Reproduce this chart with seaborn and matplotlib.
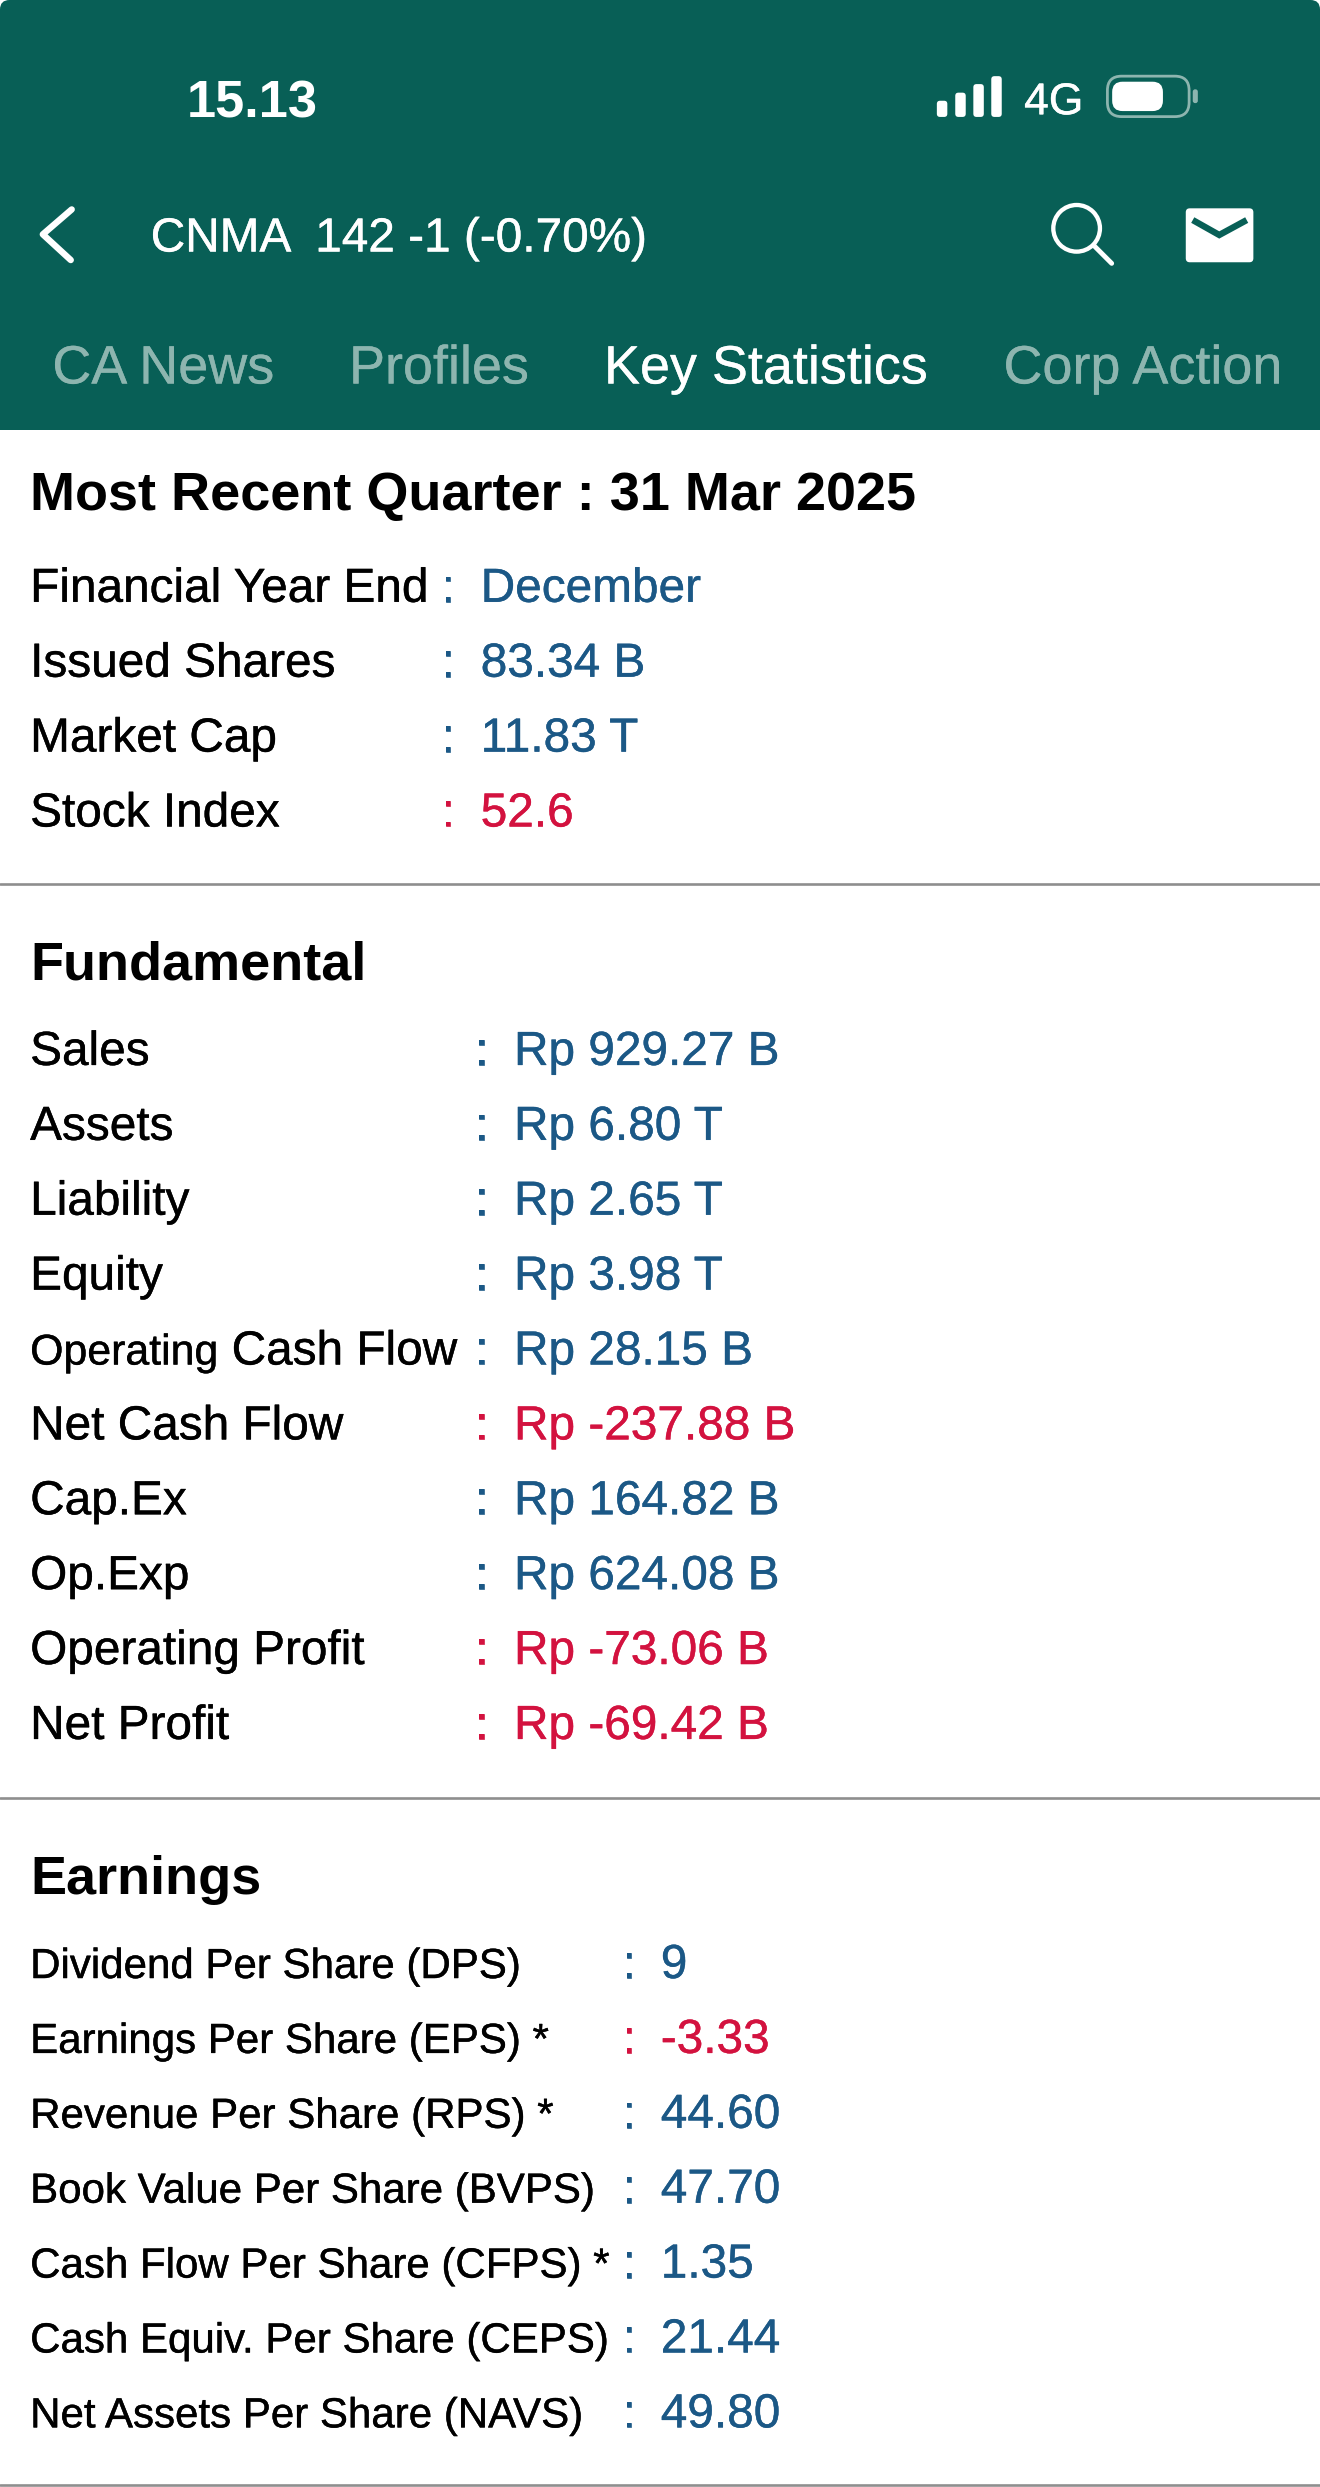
import matplotlib.pyplot as plt
from matplotlib.patches import Circle, FancyBboxPatch, Rectangle
import matplotlib.patheffects as pe
import seaborn as sns

status_time = '15.13'
network = '4G'
quote = 'CNMA  142 -1 (-0.70%)'
tabs = ['CA News', 'Profiles', 'Key Statistics', 'Corp Action']

quarter_title = 'Most Recent Quarter : 31 Mar 2025'
quarter_labels = ['Financial Year End', 'Issued Shares', 'Market Cap', 'Stock Index']
quarter_values = ['December', '83.34 B', '11.83 T', '52.6']

fundamental_title = 'Fundamental'
fundamental_labels = ['Sales', 'Assets', 'Liability', 'Equity', 'Operating Cash Flow',
                      'Net Cash Flow', 'Cap.Ex', 'Op.Exp', 'Operating Profit', 'Net Profit']
fundamental_values = ['Rp 929.27 B', 'Rp 6.80 T', 'Rp 2.65 T', 'Rp 3.98 T', 'Rp 28.15 B',
                      'Rp -237.88 B', 'Rp 164.82 B', 'Rp 624.08 B', 'Rp -73.06 B', 'Rp -69.42 B']

earnings_title = 'Earnings'
earnings_labels = ['Dividend Per Share (DPS)', 'Earnings Per Share (EPS) *', 'Revenue Per Share (RPS) *',
                   'Book Value Per Share (BVPS)', 'Cash Flow Per Share (CFPS) *',
                   'Cash Equiv. Per Share (CEPS)', 'Net Assets Per Share (NAVS)']
earnings_values = ['9', '-3.33', '44.60', '47.70', '1.35', '21.44', '49.80']

red_rows = ['Stock Index', 'Net Cash Flow', 'Operating Profit', 'Net Profit',
            'Earnings Per Share (EPS) *']

GREEN = '#085F56'
BLUE = '#1B5886'
RED = '#D3123F'
FADED = '#8DB5AF'
LINE = '#8E8E8E'
ROW = 47.2

sns.set_theme(style='white')
plt.rcParams['font.family'] = ['Liberation Sans', 'DejaVu Sans']

fig = plt.figure(figsize=(13.2, 24.87), dpi=100)
ax = fig.add_axes([0, 0, 1, 1])
# screen units of the picture as shown, 832 wide
ax.set_xlim(0, 832)
ax.set_ylim(1567.5, 0)
ax.axis('off')


def pt(size):
    return size * 1320 / 832 * 0.72


def put(x, y, s, size=30.1, color='black', thicken=0.3, **kw):
    t = ax.text(x, y, s, fontsize=pt(size), color=color, va='baseline', ha='left', **kw)
    if thicken:
        t.set_path_effects([pe.withStroke(linewidth=thicken, foreground=color)])


def rounded(x0, y0, x1, y1, r, **kw):
    ax.add_patch(FancyBboxPatch((x0, y0), x1 - x0, y1 - y0,
                                boxstyle=f'round,pad=0,rounding_size={r}', **kw))


def section(labels, values, first_y, colon_x, value_x, label_size=30.1):
    for i, (label, value) in enumerate(zip(labels, values)):
        y = first_y + i * ROW
        color = RED if label in red_rows else BLUE
        if label == 'Operating Cash Flow':
            put(19, y, 'Operating', size=27)
            put(146, y, 'Cash Flow')
        else:
            put(19, y, label, size=label_size)
        put(colon_x, y, ':', color=color, thicken=0.45)
        put(value_x, y, value, color=color)


# header
rounded(0, 0, 832, 40, 6, fc=GREEN, ec='none')
ax.add_patch(Rectangle((0, 12), 832, 259, color=GREEN, lw=0))
put(117.5, 74, status_time, size=33, color='white', weight='bold', thicken=0)

for x, top in zip([590.5, 602.1, 613.5, 624.8], [63.5, 58.4, 53, 48]):
    rounded(x, top, x + 6.6, 73.7, 2, fc='white', ec='none')
put(645.5, 72, network, size=28, color='white')
rounded(698, 48, 749.5, 73.5, 9, fc='none', ec=FADED, lw=2)
rounded(701, 51.5, 733, 70, 6.5, fc='white', ec='none')
rounded(751.8, 56.3, 755, 65, 1.5, fc=FADED, ec='none')

ax.plot([45.2, 27, 44.6], [132, 147.7, 163.9], color='white', lw=4.6, solid_capstyle='round',
        solid_joinstyle='round')
put(95, 158.5, quote, color='white')
ax.add_patch(Circle((678.6, 143.9), 14.7, fc='none', ec='white', lw=3.1))
ax.plot([690.2, 700.7], [155.5, 166], color='white', lw=3.5, solid_capstyle='round')
rounded(747.4, 131.3, 790, 165.3, 2.5, fc='white', ec='none')
ax.plot([751.8, 768.5, 785.8], [138.7, 148.1, 138.7], color=GREEN, lw=4.6,
        solid_capstyle='butt', solid_joinstyle='miter')

for x, tab in zip([33, 220, 380.7, 632.5], tabs):
    put(x, 241.7, tab, size=34, color='white' if tab == 'Key Statistics' else FADED, thicken=0.2)

# sections
put(19, 321.5, quarter_title, size=34.05, weight='bold', thicken=0)
section(quarter_labels, quarter_values, 379.3, 278.3, 303)
ax.axhline(557.3, color=LINE, lw=1.9)

put(19, 617.5, fundamental_title, size=34.05, weight='bold', thicken=0)
section(fundamental_labels, fundamental_values, 671.2, 299.3, 324)
ax.axhline(1133.3, color=LINE, lw=1.9)

put(19, 1193.5, earnings_title, size=34.05, weight='bold', thicken=0)
section(earnings_labels, earnings_values, 1246.7, 392.3, 416.5, label_size=26.5)
ax.axhline(1566.3, color=LINE, lw=1.9)

fig.savefig('out.png', dpi=100)
